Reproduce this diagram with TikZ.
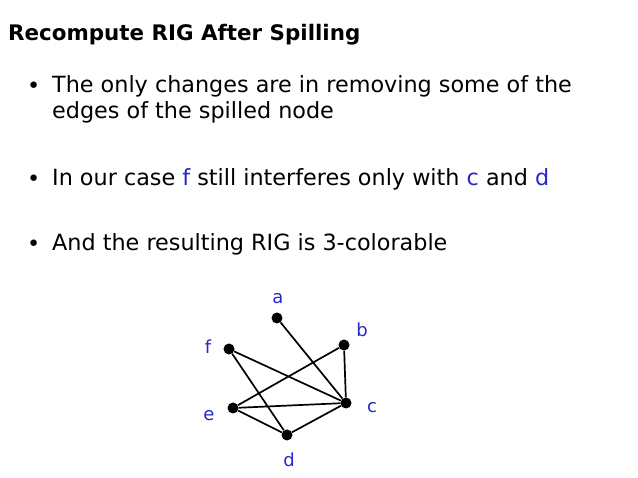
\documentclass[tikz,border=0pt]{standalone}
\usepackage{fontspec}
\setmainfont{DejaVu Sans}
\definecolor{lb}{RGB}{40,40,200}
\begin{document}
\begin{tikzpicture}[x=1pt,y=-1pt,
  txt/.style={anchor=west,inner sep=0,font=\fontsize{22.3}{25}\selectfont},
  vtx/.style={circle,fill=black,inner sep=0,minimum size=11pt},
  lbl/.style={text=lb,font=\fontsize{18}{20}\selectfont,inner sep=0},
  edge/.style={line width=1.7pt}]
\useasboundingbox (0,0) rectangle (638,478);
\node[txt,font=\bfseries\fontsize{21.4}{23}\selectfont] (t) at (8,35) {Recompute RIG After Spilling};
\node[txt] (b1) at (27,88) {•};
\node[txt] (l1) at (52,86) {The only changes are in removing some of the};
\node[txt] (l2) at (52,112) {edges of the spilled node};
\node[txt] (b2) at (27,181) {•};
\node[txt] (l3) at (52,179) {In our case \textcolor{lb}{f} still interferes only with \textcolor{lb}{c} and \textcolor{lb}{d}};
\node[txt] (b3) at (27,246) {•};
\node[txt] (l4) at (52,244) {And the resulting RIG is 3-colorable};
\node[vtx] (a) at (277,318) {};
\node[vtx] (b) at (344,345) {};
\node[vtx] (f) at (229,349) {};
\node[vtx] (e) at (233,408) {};
\node[vtx] (c) at (346,403) {};
\node[vtx] (d) at (287,435) {};
\draw[edge] (a)--(c) (b)--(e) (b)--(c) (f)--(c) (f)--(d) (e)--(c) (e)--(d) (d)--(c);
\node[lbl] (la) at (278,299) {a};
\node[lbl] (lb) at (362,330) {b};
\node[lbl] (lf) at (208,347) {f};
\node[lbl] (le) at (209,416) {e};
\node[lbl] (lc) at (372,408) {c};
\node[lbl] (ld) at (289,460) {d};
\end{tikzpicture}
\end{document}
